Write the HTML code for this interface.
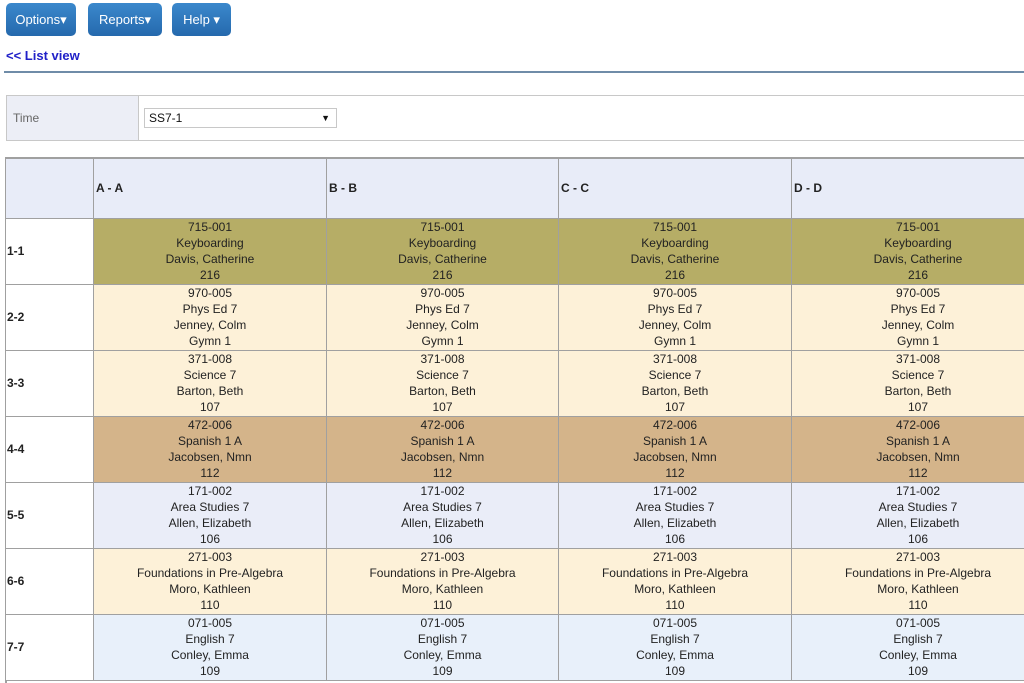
<!DOCTYPE html>
<html><head><style>
body{margin:0;width:1024px;height:683px;overflow:hidden;background:#fff;font-family:"Liberation Sans",Arial,sans-serif;position:relative}
.btn{position:absolute;top:3px;height:33px;border-radius:5px;background:linear-gradient(#3b88cc,#2569ad);color:#fff;font-size:13px;line-height:33px;text-align:center}
.c{position:absolute;box-sizing:border-box;border-right:1px solid #a0a0a0;border-bottom:1px solid #a0a0a0;font-size:12px;color:#222;text-align:center;line-height:16px;padding-top:0}
.h{background:#e8ecf8;font-weight:bold;font-size:12px;text-align:left;line-height:58px;padding:0 0 0 2px}
.l{background:#fff;font-weight:bold;text-align:left;padding:0 0 0 1px;line-height:64px}
</style></head><body>
<div class="btn" style="left:6px;width:70px">Options▾</div>
<div class="btn" style="left:88px;width:74px">Reports▾</div>
<div class="btn" style="left:172px;width:59px">Help ▾</div>
<div style="position:absolute;left:6px;top:48px;font-size:13px;font-weight:bold;color:#2020c8">&lt;&lt; List view</div>
<div style="position:absolute;left:4px;top:71px;width:1020px;height:2px;background:#6f8ca8"></div>
<div style="position:absolute;left:6px;top:95px;width:1020px;height:46px;box-sizing:border-box;border:1px solid #c8c8c8;background:#fff"></div>
<div style="position:absolute;left:6px;top:95px;width:133px;height:46px;box-sizing:border-box;border:1px solid #c8c8c8;background:#eceef6;font-size:12px;color:#666;line-height:44px;padding-left:6px">Time</div>
<div style="position:absolute;left:144px;top:108px;width:193px;height:20px;box-sizing:border-box;border:1px solid #c8c8c8;font-size:12px;line-height:18px;padding-left:4px;color:#111">SS7-1<span style="position:absolute;right:6px;font-size:9px">▼</span></div>
<div style="position:absolute;left:6px;top:157px;width:1020px;height:2px;background:#a0a0a0"></div>
<div style="position:absolute;left:5px;top:157px;width:2px;height:526px;background:#a0a0a0"></div>
<div id="g"></div>
<script>
var xs=[6,94,327,559,792,1025];
var rows=[["715-001","Keyboarding","Davis, Catherine","216","#b6ad66"],
["970-005","Phys Ed 7","Jenney, Colm","Gymn 1","#fdf1d8"],
["371-008","Science 7","Barton, Beth","107","#fdf1d8"],
["472-006","Spanish 1 A","Jacobsen, Nmn","112","#d4b48a"],
["171-002","Area Studies 7","Allen, Elizabeth","106","#eaedf8"],
["271-003","Foundations in Pre-Algebra","Moro, Kathleen","110","#fdf1d8"],
["071-005","English 7","Conley, Emma","109","#e8f0fa"]];
var hd=["","A - A","B - B","C - C","D - D"];
var h="";
for(var i=0;i<5;i++){h+='<div class="c h" style="left:'+xs[i]+'px;top:159px;width:'+(xs[i+1]-xs[i]+(i==4?20:0))+'px;height:60px">'+hd[i]+'</div>';}
for(var r=0;r<7;r++){var y=219+r*66;
h+='<div class="c l" style="left:6px;top:'+y+'px;width:88px;height:66px">'+(r+1)+'-'+(r+1)+'</div>';
for(var i=1;i<5;i++){var d=rows[r];h+='<div class="c" style="left:'+xs[i]+'px;top:'+y+'px;width:'+(xs[i+1]-xs[i]+(i==4?20:0))+'px;height:66px;background:'+d[4]+'">'+d[0]+'<br>'+d[1]+'<br>'+d[2]+'<br>'+d[3]+'</div>';}}
document.getElementById('g').innerHTML=h;
</script>
</body></html>
